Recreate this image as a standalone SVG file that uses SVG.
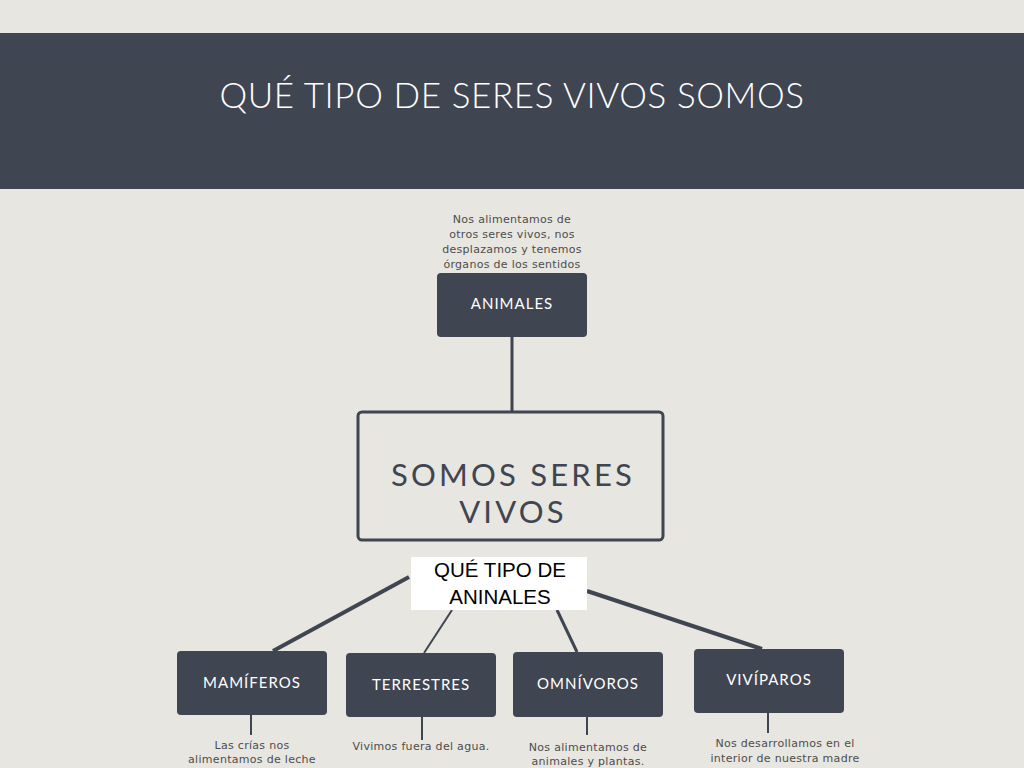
<svg xmlns="http://www.w3.org/2000/svg" width="1024" height="768" viewBox="0 0 1024 768">
<style>
.node rect{fill:#3f4551;}
.lbl{font-family:Lato,"Liberation Sans",sans-serif;font-size:15px;fill:#ffffff;text-anchor:middle;letter-spacing:1px;}
.desc{font-family:"DejaVu Sans","Liberation Sans",sans-serif;font-size:11px;fill:#4d4d4d;text-anchor:middle;letter-spacing:0.3px;}
.conn line{stroke:#3f4551;stroke-linecap:butt;}
.big{font-family:Lato,"Liberation Sans",sans-serif;font-size:31px;fill:#3f4551;text-anchor:middle;letter-spacing:3.2px;}
</style>
<rect x="0" y="0" width="1024" height="768" fill="#e7e6e0"/>
<g id="header">
<rect x="0" y="33" width="1024" height="156" fill="#3f4551"/>
<text x="512" y="108" font-family="Lato,'Liberation Sans',sans-serif" font-weight="300" font-size="35" fill="#ffffff" text-anchor="middle" letter-spacing="0.6">QUÉ TIPO DE SERES VIVOS SOMOS</text>
</g>
<g id="connectors" class="conn">
<line x1="512" y1="337" x2="512" y2="412" stroke-width="3"/>
<line x1="409" y1="577" x2="273" y2="651" stroke-width="4"/>
<line x1="452" y1="610" x2="424" y2="653" stroke-width="2"/>
<line x1="557" y1="610" x2="577" y2="652" stroke-width="3"/>
<line x1="587" y1="591" x2="762" y2="649" stroke-width="4"/>
<line x1="251" y1="715" x2="251" y2="735" stroke-width="2"/>
<line x1="422" y1="717" x2="422" y2="740" stroke-width="2"/>
<line x1="587" y1="717" x2="587" y2="735" stroke-width="2"/>
<line x1="768" y1="713" x2="768" y2="733" stroke-width="2"/>
</g>
<g id="animales" class="node">
<text class="desc" x="512" y="223">Nos alimentamos de</text>
<text class="desc" x="512" y="238">otros seres vivos, nos</text>
<text class="desc" x="512" y="253">desplazamos y tenemos</text>
<text class="desc" x="512" y="268">órganos de los sentidos</text>
<rect x="437" y="273" width="150" height="64" rx="4"/>
<text class="lbl" x="512" y="309">ANIMALES</text>
</g>
<g id="somos">
<rect x="358" y="412" width="305" height="128" rx="4" fill="none" stroke="#3f4551" stroke-width="3"/>
<text class="big" x="513" y="486">SOMOS SERES</text>
<text class="big" x="513" y="523">VIVOS</text>
</g>
<g id="tipo">
<rect x="411" y="557" width="176" height="53" fill="#ffffff"/>
<text x="500" y="577" font-family="'Liberation Sans',Arial,sans-serif" font-size="20.5" fill="#000000" text-anchor="middle">QUÉ TIPO DE</text>
<text x="500" y="604" font-family="'Liberation Sans',Arial,sans-serif" font-size="20.5" fill="#000000" text-anchor="middle">ANINALES</text>
</g>
<g id="mamiferos" class="node">
<rect x="177" y="651" width="150" height="64" rx="4"/>
<text class="lbl" x="252" y="688">MAMÍFEROS</text>
<text class="desc" x="252" y="749">Las crías nos</text>
<text class="desc" x="252" y="763">alimentamos de leche</text>
</g>
<g id="terrestres" class="node">
<rect x="346" y="653" width="150" height="64" rx="4"/>
<text class="lbl" x="421" y="690">TERRESTRES</text>
<text class="desc" x="421" y="750">Vivimos fuera del agua.</text>
</g>
<g id="omnivoros" class="node">
<rect x="513" y="652" width="150" height="65" rx="4"/>
<text class="lbl" x="588" y="689">OMNÍVOROS</text>
<text class="desc" x="588" y="751">Nos alimentamos de</text>
<text class="desc" x="588" y="765">animales y plantas.</text>
</g>
<g id="viviparos" class="node">
<rect x="694" y="649" width="150" height="64" rx="4"/>
<text class="lbl" x="769" y="685">VIVÍPAROS</text>
<text class="desc" x="785" y="747">Nos desarrollamos en el</text>
<text class="desc" x="785" y="762">interior de nuestra madre</text>
</g>
</svg>
